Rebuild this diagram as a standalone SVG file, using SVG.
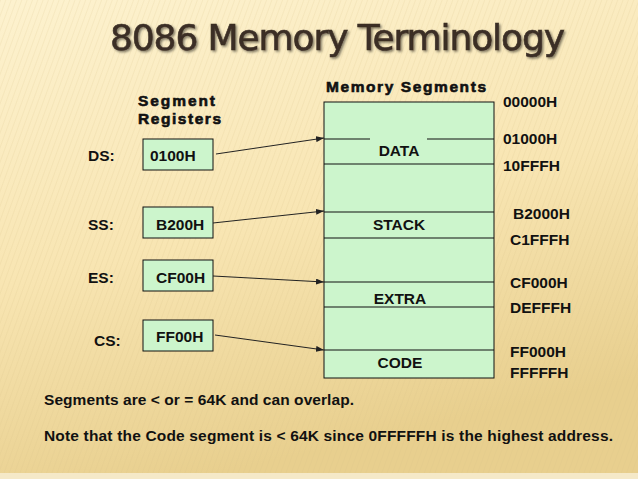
<svg xmlns="http://www.w3.org/2000/svg" width="638" height="479" viewBox="0 0 638 479">
<defs>
<linearGradient id="bg" x1="0" y1="0" x2="0.3" y2="1">
<stop offset="0" stop-color="#fdf2cf"/><stop offset="0.55" stop-color="#f8e5b2"/><stop offset="1" stop-color="#e8cf8e"/>
</linearGradient>
<pattern id="hatch" width="5" height="5" patternUnits="userSpaceOnUse" patternTransform="rotate(20)">
<line x1="0" y1="0" x2="0" y2="5" stroke="#d9bf85" stroke-width="1" opacity="0.35"/>
</pattern>
<marker id="ah" markerWidth="8" markerHeight="6" refX="8" refY="3" orient="auto" markerUnits="userSpaceOnUse">
<path d="M0,0 L8,3 L0,6 Z" fill="#222"/>
</marker>
<filter id="sh"><feDropShadow dx="1.5" dy="1.5" stdDeviation="0.8" flood-color="#000" flood-opacity="0.5"/></filter>
</defs>
<style>
text{font-family:"Liberation Sans",Arial,sans-serif;font-weight:bold;fill:#111}
.l{font-size:15.5px}
.h{font-size:15.5px;stroke:#111;stroke-width:0.6}
.reg{fill:#ccf5cc;stroke:#111;stroke-width:1}
.ln{stroke:#111;stroke-width:1.2}
.ar{stroke:#222;stroke-width:1;fill:none;marker-end:url(#ah)}
</style>
<rect width="638" height="479" fill="url(#bg)"/>
<rect width="638" height="479" fill="url(#hatch)"/>
<rect x="0" y="473" width="638" height="6" fill="#f5e9c8"/>
<text x="110" y="50" font-size="36" textLength="455" style="font-family:'DejaVu Sans',sans-serif;font-weight:normal;fill:#3b2e25;stroke:#3b2e25;stroke-width:0.6" filter="url(#sh)">8086 Memory Terminology</text>

<g id="memory">
<rect x="324" y="102" width="170" height="276" class="reg"/>
<line x1="324" y1="139" x2="370" y2="139" class="ln"/>
<line x1="427" y1="139" x2="494" y2="139" class="ln"/>
<line x1="324" y1="164" x2="494" y2="164" class="ln"/>
<line x1="324" y1="212" x2="494" y2="212" class="ln"/>
<line x1="324" y1="238" x2="494" y2="238" class="ln"/>
<line x1="324" y1="282" x2="494" y2="282" class="ln"/>
<line x1="324" y1="307" x2="494" y2="307" class="ln"/>
<line x1="324" y1="350" x2="494" y2="350" class="ln"/>
<text x="399" y="156" class="l" text-anchor="middle">DATA</text>
<text x="399" y="230" class="l" text-anchor="middle">STACK</text>
<text x="400" y="304" class="l" text-anchor="middle">EXTRA</text>
<text x="400" y="368" class="l" text-anchor="middle">CODE</text>
<text x="326" y="92" class="h" textLength="160">Memory Segments</text>
</g>

<g id="addresses">
<text x="503" y="107" class="l">00000H</text>
<text x="503" y="144" class="l">01000H</text>
<text x="503" y="171" class="l">10FFFH</text>
<text x="513" y="219" class="l">B2000H</text>
<text x="510" y="245" class="l">C1FFFH</text>
<text x="510" y="288" class="l">CF000H</text>
<text x="510" y="313" class="l">DEFFFH</text>
<text x="510" y="357" class="l">FF000H</text>
<text x="510" y="378" class="l">FFFFFH</text>
</g>

<g id="registers">
<text x="138" y="106" class="h" textLength="77">Segment</text>
<text x="138" y="124" class="h" textLength="83">Registers</text>
<g id="ds"><text x="88" y="161" class="l">DS:</text><rect x="143" y="139" width="70" height="31" class="reg"/><text x="150" y="161" class="l">0100H</text></g>
<g id="ss"><text x="88" y="230" class="l">SS:</text><rect x="143" y="207" width="70" height="31" class="reg"/><text x="156" y="230" class="l">B200H</text></g>
<g id="es"><text x="88" y="283" class="l">ES:</text><rect x="143" y="260" width="70" height="31" class="reg"/><text x="156" y="283" class="l">CF00H</text></g>
<g id="cs"><text x="94" y="346" class="l">CS:</text><rect x="143" y="320" width="70" height="31" class="reg"/><text x="156" y="342" class="l">FF00H</text></g>
</g>

<g id="connectors">
<line x1="216" y1="154" x2="324" y2="138" class="ar"/>
<line x1="213" y1="223" x2="324" y2="211" class="ar"/>
<line x1="213" y1="276" x2="324" y2="282" class="ar"/>
<line x1="215" y1="335" x2="324" y2="350" class="ar"/>
</g>

<text x="44" y="405" class="l" textLength="310">Segments are &lt; or = 64K and can overlap.</text>
<text x="44" y="441" class="l" textLength="569">Note that the Code segment is &lt; 64K since 0FFFFFH is the highest address.</text>
</svg>
